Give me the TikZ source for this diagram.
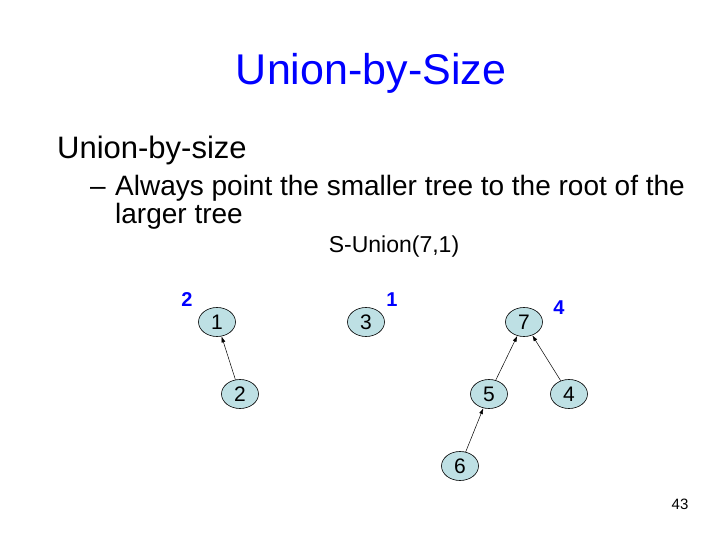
\documentclass[tikz,border=0pt]{standalone}
\usepackage{fontspec}
\setmainfont{Liberation Sans}
\usetikzlibrary{shapes.geometric,arrows.meta}
\definecolor{nodefill}{RGB}{190,224,228}
\definecolor{slideblue}{RGB}{0,0,255}

\begin{document}
\begin{tikzpicture}
[
	x=1pt,y=-1pt,
	setnode/.style={ellipse,draw,fill=nodefill,line width=0.6pt,inner sep=0pt,minimum width=37pt,minimum height=29pt,font=\fontsize{21}{24}\selectfont},
	sizelbl/.style={text=slideblue,font=\fontsize{20}{24}\selectfont\bfseries,inner sep=0pt},
	link/.style={-{Latex[length=6pt,width=4pt]},line width=0.5pt}
]

	\useasboundingbox (0,0) rectangle (720,540);

	% text
	\node[text=slideblue,font=\fontsize{43}{48}\selectfont,anchor=base,inner sep=0pt] (title) at (371,85) {Union-by-Size};
	\node[font=\fontsize{31}{36}\selectfont,anchor=base west,inner sep=0pt] (head) at (57,159) {Union-by-size};
	\node[font=\fontsize{28}{32}\selectfont,anchor=base west,inner sep=0pt] (dash) at (90,196) {–};
	\node[font=\fontsize{28}{32}\selectfont,anchor=base west,inner sep=0pt] (line1) at (115,196) {Always point the smaller tree to the root of the};
	\node[font=\fontsize{28}{32}\selectfont,anchor=base west,inner sep=0pt] (line2) at (115,224) {larger tree};
	\node[font=\fontsize{23}{28}\selectfont,anchor=base,inner sep=0pt] (op) at (394,252) {S-Union(7,1)};

	% trees
	\node[setnode] (n1) at (217,322) {1};
	\node[setnode] (n2) at (240,394) {2};
	\node[setnode] (n3) at (366,322) {3};
	\node[setnode] (n7) at (524,322) {7};
	\node[setnode] (n5) at (489,394) {5};
	\node[setnode] (n4) at (569,394) {4};
	\node[setnode] (n6) at (460,466) {6};

	\draw[link] (n2) -- (n1);
	\draw[link] (n5) -- (n7);
	\draw[link] (n4) -- (n7);
	\draw[link] (n6) -- (n5);

	% sizes
	\node[sizelbl] (s1) at (187,300) {2};
	\node[sizelbl] (s3) at (392,300) {1};
	\node[sizelbl] (s7) at (559,308) {4};

	\node[font=\fontsize{15}{17}\selectfont,anchor=base,inner sep=0pt] (page) at (680,509) {43};

\end{tikzpicture}
\end{document}
